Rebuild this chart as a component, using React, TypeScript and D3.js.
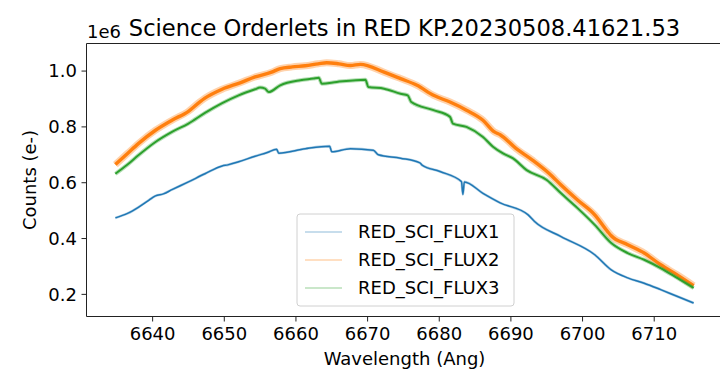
import React from "react";
import * as d3 from "d3";

const flux1Wave = [6634.8, 6636.5, 6638.0, 6639.5, 6640.4, 6641.5, 6642.7, 6645.0, 6647.3, 6649.7, 6650.5, 6652.0, 6654.3, 6656.0, 6657.3, 6657.6, 6661.3, 6664.7, 6665.0, 6667.6, 6670.8, 6671.5, 6674.6, 6677.3, 6677.6, 6680.1, 6683.1, 6683.3, 6683.5, 6686.1, 6688.5, 6692.4, 6693.3, 6697.0, 6701.7, 6704.0, 6706.3, 6708.6, 6710.9, 6713.0, 6715.5];
const flux1 = [0.474, 0.49, 0.512, 0.538, 0.553, 0.56, 0.575, 0.603, 0.632, 0.66, 0.664, 0.675, 0.695, 0.708, 0.72, 0.706, 0.722, 0.731, 0.711, 0.722, 0.716, 0.7, 0.688, 0.671, 0.663, 0.64, 0.604, 0.558, 0.603, 0.562, 0.528, 0.485, 0.461, 0.407, 0.342, 0.288, 0.259, 0.24, 0.217, 0.195, 0.169];

const flux2Wave = [6634.8, 6636.5, 6638.05, 6640.4, 6642.7, 6645.0, 6646.6, 6647.3, 6649.7, 6652.2, 6654.3, 6656.6, 6657.8, 6659.5, 6661.3, 6663.1, 6664.3, 6666.0, 6667.6, 6669.0, 6672.3, 6674.6, 6676.9, 6679.2, 6681.5, 6683.8, 6686.1, 6687.7, 6688.5, 6690.7, 6693.0, 6695.3, 6697.0, 6699.3, 6701.7, 6703.5, 6704.0, 6706.3, 6708.6, 6710.9, 6713.2, 6715.5];
const flux2 = [0.665, 0.705, 0.741, 0.788, 0.824, 0.856, 0.89, 0.903, 0.935, 0.958, 0.979, 0.996, 1.009, 1.015, 1.019, 1.026, 1.03, 1.026, 1.02, 1.024, 0.996, 0.973, 0.949, 0.913, 0.889, 0.86, 0.824, 0.782, 0.772, 0.723, 0.681, 0.634, 0.592, 0.538, 0.485, 0.425, 0.41, 0.378, 0.348, 0.306, 0.27, 0.231];

const flux3Wave = [6634.8, 6636.5, 6638.05, 6640.4, 6642.7, 6645.0, 6647.3, 6649.7, 6652.0, 6654.3, 6655.0, 6655.7, 6656.2, 6657.8, 6660.6, 6662.4, 6663.2, 6663.6, 6665.7, 6669.7, 6670.1, 6672.3, 6674.6, 6675.6, 6676.1, 6679.2, 6681.5, 6681.9, 6683.8, 6686.1, 6687.5, 6688.9, 6690.3, 6692.2, 6695.0, 6697.0, 6699.3, 6701.7, 6704.0, 6706.3, 6708.6, 6710.9, 6713.2, 6715.5];
const flux3 = [0.632, 0.665, 0.699, 0.746, 0.782, 0.812, 0.85, 0.885, 0.913, 0.935, 0.941, 0.937, 0.925, 0.949, 0.967, 0.973, 0.976, 0.955, 0.961, 0.969, 0.943, 0.937, 0.919, 0.913, 0.889, 0.86, 0.836, 0.812, 0.8, 0.764, 0.729, 0.705, 0.687, 0.645, 0.61, 0.562, 0.509, 0.449, 0.384, 0.348, 0.324, 0.294, 0.259, 0.223];

const seriesNames = ["RED_SCI_FLUX1", "RED_SCI_FLUX2", "RED_SCI_FLUX3"];
const seriesColors = ["#1f77b4", "#ff7f0e", "#2ca02c"];
const xTicks = [6640, 6650, 6660, 6670, 6680, 6690, 6700, 6710];
const yTicks = [0.2, 0.4, 0.6, 0.8, 1.0];
const title = "Science Orderlets in RED KP.20230508.41621.53";

export default function App() {
  const W = 720, H = 377;
  const left = 86.5, right = 722.5, top = 43.5, bottom = 316.5;
  const x = d3.scaleLinear().domain([6630.77, 6719.53]).range([left, right]);
  const y = d3.scaleLinear().domain([0.1207, 1.0988]).range([bottom, top]);
  const font = "'DejaVu Sans', sans-serif";
  const series = [
    { w: flux1Wave, v: flux1, halo: 2.6, sw: 1.5 },
    { w: flux2Wave, v: flux2, halo: 7, sw: 3.4 },
    { w: flux3Wave, v: flux3, halo: 4, sw: 2.0 },
  ];
  const line = (w: number[], v: number[]) =>
    d3.line<number>().curve(d3.curveMonotoneX).x((_, i) => x(w[i])).y((d) => y(d))(v) || "";
  const legX = 297, legY = 214, legW = 217, legH = 92;
  return (
    <svg width={W} height={H} style={{ position: "absolute", left: 0, top: 0, background: "#fff" }} fontFamily={font}>
      <rect x={0} y={0} width={W} height={H} fill="#fff" />
      {series.map((s, i) => (
        <g key={i}>
          <path d={line(s.w, s.v)} fill="none" stroke={seriesColors[i]} strokeOpacity={0.35} strokeWidth={s.halo} strokeLinejoin="round" />
          <path d={line(s.w, s.v)} fill="none" stroke={seriesColors[i]} strokeWidth={s.sw} strokeLinejoin="round" />
        </g>
      ))}
      <line x1={left} x2={left} y1={top} y2={bottom} stroke="#222" strokeWidth={1} />
      <line x1={left} x2={right} y1={bottom} y2={bottom} stroke="#222" strokeWidth={1} />
      <line x1={left} x2={right} y1={top} y2={top} stroke="#222" strokeWidth={1} />
      <line x1={right} x2={right} y1={top} y2={bottom} stroke="#222" strokeWidth={1} />
      {xTicks.map((t) => (
        <g key={t}>
          <line x1={x(t)} x2={x(t)} y1={bottom} y2={bottom + 5} stroke="#222" />
          <text x={x(t)} y={340} fontSize={18} textAnchor="middle" fill="#000">{t}</text>
        </g>
      ))}
      {yTicks.map((t) => (
        <g key={t}>
          <line x1={left - 5} x2={left} y1={y(t)} y2={y(t)} stroke="#222" />
          <text x={77} y={y(t)} dy="0.35em" fontSize={18} textAnchor="end" fill="#000">{t.toFixed(1)}</text>
        </g>
      ))}
      <text x={87} y={38} fontSize={18} fill="#000">1e6</text>
      <text x={(left + right) / 2} y={36} fontSize={22.6} textAnchor="middle" fill="#000">{title}</text>
      <text x={(left + right) / 2} y={365} fontSize={18} textAnchor="middle" fill="#000">Wavelength (Ang)</text>
      <text transform={`translate(36,${(top + bottom) / 2}) rotate(-90)`} fontSize={18} textAnchor="middle" fill="#000">Counts (e-)</text>
      <rect x={legX} y={legY} width={legW} height={legH} rx={3} fill="#fff" fillOpacity={0.8} stroke="#d0d0d0" />
      {seriesNames.map((n, i) => (
        <g key={n}>
          <line x1={legX + 8} x2={legX + 45} y1={legY + 18 + i * 28} y2={legY + 18 + i * 28} stroke={seriesColors[i]} strokeOpacity={0.5} strokeWidth={1} />
          <text x={legX + 61} y={legY + 18 + i * 28} dy="0.36em" fontSize={18} fill="#000">{n}</text>
        </g>
      ))}
    </svg>
  );
}
